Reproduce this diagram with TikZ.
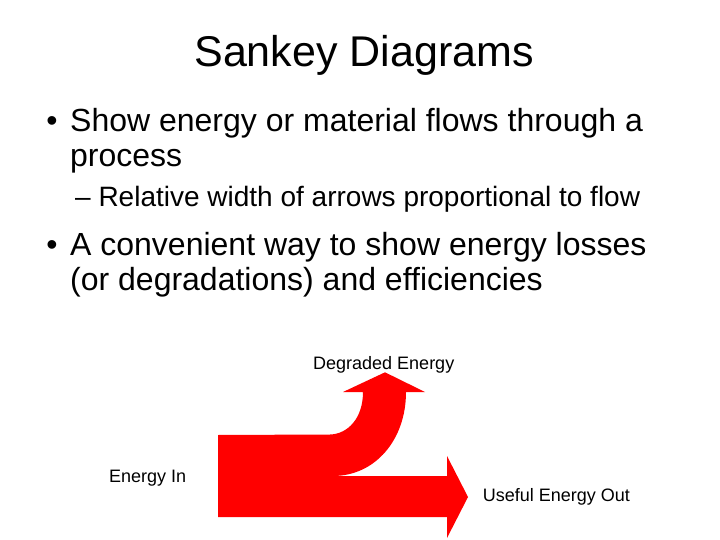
\documentclass[tikz,border=0pt]{standalone}
\usepackage{fontspec}
\setmainfont{Liberation Sans}
\begin{document}
\begin{tikzpicture}[x=1pt,y=-1pt]
  \useasboundingbox (0,0) rectangle (720,540);

  \node[anchor=base, inner sep=0pt] (title) at (364,66.7) {\fontsize{43}{50}\selectfont Sankey Diagrams};

  \begin{scope}[every node/.style={anchor=base west, inner sep=0pt, font=\fontsize{32}{38}\selectfont}]
    \node[anchor=base] (b1) at (52,131.7) {•};
    \node (l1) at (70,131.7) {Show energy or material flows through a};
    \node (l2) at (70,167) {process};
    \node[font=\fontsize{28}{33}\selectfont] (s1) at (75,206.7) {– Relative width of arrows proportional to flow};
    \node[anchor=base] (b2) at (52,255.7) {•};
    \node (l3) at (70,255.7) {A convenient way to show energy losses};
    \node (l4) at (70,290.5) {(or degradations) and efficiencies};
  \end{scope}

  \fill[red] (218,435) -- (330,434.5) .. controls (348,434) and (363,418) .. (363,392)
    -- (343,392) -- (385,372.3) -- (425,392) -- (406,392)
    .. controls (406,440) and (375,476) .. (333,476)
    -- (447,476) -- (447,456) -- (468,497) -- (447,538) -- (447,517) -- (218,517) -- cycle;

  \begin{scope}[every node/.style={anchor=base west, inner sep=0pt, font=\fontsize{18}{21}\selectfont}]
    \node (degraded) at (313,369.3) {Degraded Energy};
    \node (in) at (109,482.7) {Energy In};
    \node (out) at (482.7,501) {Useful Energy Out};
  \end{scope}
\end{tikzpicture}
\end{document}
